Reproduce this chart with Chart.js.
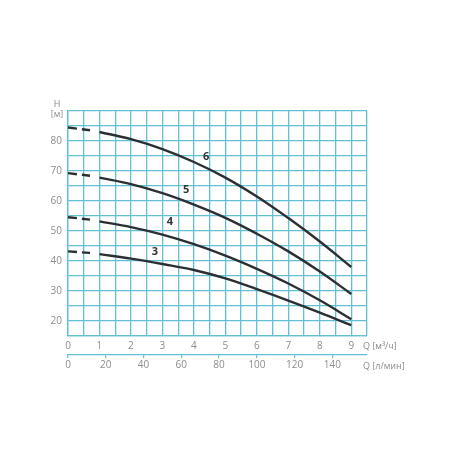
<!DOCTYPE html>
<html>
<head>
<meta charset="utf-8">
<script src="https://cdn.jsdelivr.net/npm/chart.js@4.4.0/dist/chart.umd.min.js"></script>
<style>
  html, body { margin: 0; padding: 0; background: #fff; }
  #wrap { width: 474px; height: 474px; }
</style>
</head>
<body>
<div id="wrap"><canvas id="pumpChart" width="474" height="474"></canvas></div>
<script>
// Flow (m3/h) and head (m)
const flow = [1, 2, 3, 4, 5, 6, 7, 8, 9];
const head6 = [83.0, 80.6, 77.3, 73.0, 67.8, 61.5, 54.3, 46.5, 38.0];
const head5 = [67.8, 65.6, 62.6, 58.8, 54.4, 49.1, 43.2, 36.5, 29.0];
const head4 = [53.2, 51.3, 48.8, 45.6, 41.8, 37.4, 32.5, 26.9, 20.6];
const head3 = [42.3, 40.8, 39.0, 37.0, 34.2, 30.6, 26.8, 22.8, 18.6];

// dashed start of each curve (Q = 0 .. 0.7)
const dashFlow = [0, 0.7];
const dash6 = [84.5, 83.6];
const dash5 = [69.3, 68.4];
const dash4 = [54.6, 53.8];
const dash3 = [43.2, 42.7];

const curveNames = ['6', '5', '4', '3'];
const xTicks = [0, 1, 2, 3, 4, 5, 6, 7, 8, 9];
const yTicks = [20, 30, 40, 50, 60, 70, 80];
const lpmTicks = [0, 20, 40, 60, 80, 100, 120, 140];

const gridColor = '#62c0d4';
const lineColor = '#2b2f33';
const labelColor = '#8c8c8c';

function pts(xs, ys) {
    return xs.map((x, i) => ({ x: x, y: ys[i] }));
}

const solid = [head6, head5, head4, head3];
const dashed = [dash6, dash5, dash4, dash3];
const datasets = [];
solid.forEach((h, i) => {
    datasets.push({
        label: curveNames[i],
        data: pts(flow, h),
        borderColor: lineColor,
        borderWidth: 2.4,
        pointRadius: 0,
        tension: 0.4,
        fill: false
    });
    datasets.push({
        label: curveNames[i] + '-start',
        data: pts(dashFlow, dashed[i]),
        borderColor: lineColor,
        borderWidth: 2.4,
        borderDash: [9, 5],
        pointRadius: 0,
        fill: false
    });
});

// where the curve numbers sit (in Q, H)
const tagQ = [4.39, 3.75, 3.24, 2.76];
const tagH = [74.6, 63.6, 53.2, 42.9];

const extras = {
    id: 'extras',
    afterDraw(chart) {
        const c = chart.ctx;
        const xs = chart.scales.x, ys = chart.scales.y, x2 = chart.scales.x2;
        c.save();
        // curve numbers
        c.fillStyle = '#333';
        c.font = 'bold 11px "Open Sans", sans-serif';
        c.textAlign = 'center';
        c.textBaseline = 'middle';
        curveNames.forEach((n, i) => {
            c.fillText(n, xs.getPixelForValue(tagQ[i]), ys.getPixelForValue(tagH[i]));
        });
        // axis titles
        c.fillStyle = labelColor;
        c.font = '9px "Open Sans", sans-serif';
        c.textAlign = 'center';
        c.fillText('H', xs.left - 11, chart.chartArea.top - 7);
        c.fillText('[м]', xs.left - 11, chart.chartArea.top + 3);
        c.textAlign = 'left';
        c.fillText('Q [м³/ч]', xs.right - 4, chart.chartArea.bottom + 10);
        c.fillText('Q [л/мин]', xs.right - 4, x2.top + 11);
        c.restore();
    }
};

const ctx = document.getElementById('pumpChart').getContext('2d');
const pumpChart = new Chart(ctx, {
    type: 'line',
    data: { datasets: datasets },
    options: {
        responsive: false,
        animation: false,
        layout: { padding: { top: 111, right: 107, bottom: 99, left: 0 } },
        plugins: { legend: { display: false }, tooltip: { enabled: false } },
        scales: {
            x: {
                type: 'linear',
                position: 'bottom',
                min: 0,
                max: 9.5,
                afterFit: s => { s.height = 19; },
                afterBuildTicks: s => {
                    s.ticks = [];
                    for (let k = 0; k <= 19; k++) s.ticks.push({ value: k / 2 });
                },
                grid: { color: gridColor, lineWidth: 1.3, drawTicks: false },
                border: { color: gridColor, width: 1.3 },
                ticks: {
                    color: labelColor,
                    font: { family: 'Open Sans', size: 10 },
                    padding: 4,
                    autoSkip: false,
                    maxRotation: 0,
                    callback: v => xTicks.includes(v) ? String(v) : ''
                }
            },
            x2: {
                type: 'linear',
                position: 'bottom',
                min: 0,
                max: 9.5 * 50 / 3,
                afterFit: s => { s.height = 20; },
                afterBuildTicks: s => { s.ticks = lpmTicks.map(v => ({ value: v })); },
                grid: { drawOnChartArea: false, color: gridColor, tickLength: 3, lineWidth: 1.2 },
                border: { color: gridColor, width: 1.3 },
                ticks: {
                    color: labelColor,
                    font: { family: 'Open Sans', size: 10 },
                    padding: 1,
                    autoSkip: false,
                    maxRotation: 0
                }
            },
            y: {
                type: 'linear',
                min: 15,
                max: 90,
                afterFit: s => { s.width = 68; },
                afterBuildTicks: s => {
                    s.ticks = [];
                    for (let v = 15; v <= 90; v += 5) s.ticks.push({ value: v });
                },
                grid: { color: gridColor, lineWidth: 1.3, drawTicks: false },
                border: { color: gridColor, width: 1.3 },
                ticks: {
                    color: labelColor,
                    font: { family: 'Open Sans', size: 10 },
                    padding: 6,
                    autoSkip: false,
                    callback: v => yTicks.includes(v) ? String(v) : ''
                }
            }
        }
    },
    plugins: [extras]
});
</script>
</body>
</html>
